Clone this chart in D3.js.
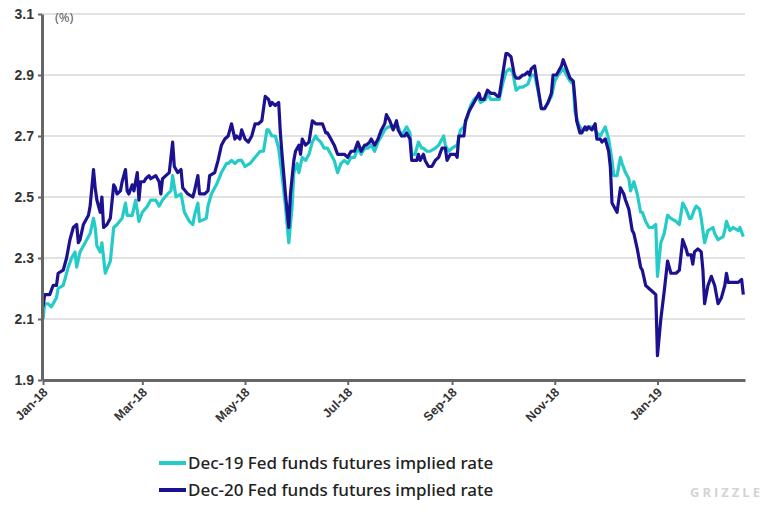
<!DOCTYPE html>
<html>
<head>
<meta charset="utf-8">
<script src="https://cdn.jsdelivr.net/npm/d3@7"></script>
<style>
  body { margin: 0; background: #fff; }
  svg { display: block; }
</style>
</head>
<body>
<svg id="drawing_region"></svg>
<script>
// Dec-19 contract (cyan)
const dec19Dates = ["2018-01-01","2018-01-02","2018-01-04","2018-01-06","2018-01-09","2018-01-10","2018-01-13","2018-01-15","2018-01-16","2018-01-18","2018-01-20","2018-01-21","2018-01-23","2018-01-26","2018-01-29","2018-01-31","2018-02-01","2018-02-02","2018-02-04","2018-02-05","2018-02-07","2018-02-10","2018-02-12","2018-02-14","2018-02-17","2018-02-19","2018-02-20","2018-02-23","2018-02-25","2018-02-27","2018-03-01","2018-03-04","2018-03-06","2018-03-09","2018-03-11","2018-03-13","2018-03-16","2018-03-18","2018-03-19","2018-03-21","2018-03-24","2018-03-26","2018-03-29","2018-03-31","2018-04-01","2018-04-03","2018-04-04","2018-04-08","2018-04-09","2018-04-11","2018-04-14","2018-04-17","2018-04-20","2018-04-21","2018-04-23","2018-04-25","2018-04-27","2018-04-29","2018-05-01","2018-05-04","2018-05-07","2018-05-10","2018-05-12","2018-05-14","2018-05-15","2018-05-17","2018-05-19","2018-05-21","2018-05-23","2018-05-25","2018-05-27","2018-05-29","2018-05-30","2018-06-01","2018-06-02","2018-06-04","2018-06-06","2018-06-08","2018-06-10","2018-06-12","2018-06-13","2018-06-15","2018-06-17","2018-06-19","2018-06-21","2018-06-23","2018-06-25","2018-06-27","2018-06-29","2018-07-01","2018-07-03","2018-07-05","2018-07-07","2018-07-09","2018-07-11","2018-07-13","2018-07-15","2018-07-17","2018-07-19","2018-07-21","2018-07-23","2018-07-25","2018-07-29","2018-07-31","2018-08-02","2018-08-05","2018-08-07","2018-08-08","2018-08-10","2018-08-12","2018-08-14","2018-08-15","2018-08-17","2018-08-19","2018-08-22","2018-08-24","2018-08-27","2018-08-28","2018-08-30","2018-09-01","2018-09-04","2018-09-06","2018-09-08","2018-09-10","2018-09-12","2018-09-14","2018-09-16","2018-09-18","2018-09-21","2018-09-22","2018-09-24","2018-09-27","2018-09-29","2018-10-01","2018-10-03","2018-10-05","2018-10-07","2018-10-09","2018-10-11","2018-10-13","2018-10-16","2018-10-18","2018-10-20","2018-10-22","2018-10-24","2018-10-26","2018-10-28","2018-10-30","2018-11-01","2018-11-03","2018-11-06","2018-11-08","2018-11-10","2018-11-12","2018-11-13","2018-11-15","2018-11-17","2018-11-19","2018-11-21","2018-11-24","2018-11-26","2018-11-28","2018-11-30","2018-12-01","2018-12-03","2018-12-05","2018-12-06","2018-12-08","2018-12-10","2018-12-11","2018-12-13","2018-12-15","2018-12-16","2018-12-18","2018-12-20","2018-12-22","2018-12-23","2018-12-25","2018-12-27","2018-12-29","2018-12-31","2019-01-01","2019-01-03","2019-01-05","2019-01-07","2019-01-09","2019-01-12","2019-01-14","2019-01-16","2019-01-18","2019-01-20","2019-01-21","2019-01-23","2019-01-24","2019-01-26","2019-01-27","2019-01-29","2019-01-31","2019-02-03","2019-02-04","2019-02-06","2019-02-09","2019-02-10","2019-02-11","2019-02-13","2019-02-15","2019-02-18","2019-02-19","2019-02-21"];
const dec19Values = [2.10,2.15,2.15,2.14,2.17,2.20,2.21,2.25,2.27,2.30,2.32,2.27,2.32,2.35,2.38,2.43,2.40,2.34,2.32,2.35,2.25,2.29,2.40,2.41,2.43,2.48,2.44,2.44,2.49,2.42,2.45,2.47,2.49,2.49,2.47,2.49,2.51,2.52,2.57,2.50,2.51,2.45,2.42,2.41,2.44,2.48,2.42,2.43,2.47,2.51,2.54,2.58,2.61,2.61,2.62,2.61,2.62,2.62,2.60,2.61,2.63,2.65,2.65,2.72,2.72,2.70,2.70,2.66,2.57,2.47,2.35,2.47,2.58,2.61,2.58,2.63,2.62,2.64,2.68,2.70,2.69,2.68,2.66,2.66,2.64,2.62,2.58,2.61,2.62,2.61,2.63,2.63,2.66,2.64,2.66,2.66,2.67,2.65,2.68,2.70,2.72,2.73,2.73,2.73,2.70,2.73,2.71,2.64,2.64,2.68,2.66,2.66,2.65,2.65,2.66,2.67,2.70,2.67,2.65,2.66,2.67,2.72,2.73,2.76,2.80,2.82,2.83,2.81,2.82,2.84,2.82,2.82,2.82,2.87,2.91,2.92,2.91,2.85,2.86,2.86,2.87,2.90,2.90,2.85,2.79,2.79,2.81,2.83,2.88,2.90,2.92,2.90,2.88,2.87,2.78,2.74,2.72,2.72,2.73,2.73,2.71,2.70,2.72,2.73,2.69,2.62,2.57,2.57,2.63,2.61,2.58,2.56,2.52,2.55,2.51,2.45,2.45,2.42,2.40,2.40,2.41,2.24,2.35,2.38,2.44,2.43,2.42,2.41,2.48,2.46,2.43,2.43,2.46,2.47,2.46,2.43,2.35,2.39,2.40,2.38,2.36,2.37,2.39,2.42,2.39,2.40,2.39,2.40,2.37];

// Dec-20 contract (navy)
const dec20Dates = ["2018-01-01","2018-01-02","2018-01-05","2018-01-07","2018-01-09","2018-01-10","2018-01-13","2018-01-15","2018-01-17","2018-01-19","2018-01-21","2018-01-22","2018-01-23","2018-01-25","2018-01-28","2018-01-29","2018-01-31","2018-02-01","2018-02-02","2018-02-04","2018-02-05","2018-02-06","2018-02-08","2018-02-10","2018-02-12","2018-02-13","2018-02-14","2018-02-16","2018-02-17","2018-02-19","2018-02-20","2018-02-21","2018-02-23","2018-02-24","2018-02-26","2018-02-27","2018-02-28","2018-03-02","2018-03-03","2018-03-05","2018-03-06","2018-03-09","2018-03-11","2018-03-12","2018-03-13","2018-03-15","2018-03-17","2018-03-19","2018-03-20","2018-03-22","2018-03-24","2018-03-25","2018-03-28","2018-03-31","2018-04-01","2018-04-03","2018-04-04","2018-04-07","2018-04-09","2018-04-10","2018-04-13","2018-04-15","2018-04-17","2018-04-19","2018-04-21","2018-04-22","2018-04-23","2018-04-25","2018-04-26","2018-04-28","2018-04-29","2018-05-01","2018-05-03","2018-05-05","2018-05-07","2018-05-09","2018-05-11","2018-05-13","2018-05-15","2018-05-16","2018-05-17","2018-05-19","2018-05-21","2018-05-22","2018-05-23","2018-05-25","2018-05-27","2018-05-28","2018-05-30","2018-05-31","2018-06-02","2018-06-03","2018-06-04","2018-06-06","2018-06-08","2018-06-10","2018-06-12","2018-06-14","2018-06-16","2018-06-18","2018-06-19","2018-06-21","2018-06-23","2018-06-25","2018-06-27","2018-06-29","2018-07-01","2018-07-03","2018-07-05","2018-07-07","2018-07-09","2018-07-11","2018-07-12","2018-07-14","2018-07-15","2018-07-17","2018-07-19","2018-07-21","2018-07-23","2018-07-24","2018-07-26","2018-07-28","2018-07-30","2018-07-31","2018-08-02","2018-08-04","2018-08-05","2018-08-07","2018-08-08","2018-08-11","2018-08-12","2018-08-13","2018-08-15","2018-08-16","2018-08-18","2018-08-20","2018-08-22","2018-08-24","2018-08-26","2018-08-28","2018-08-29","2018-08-31","2018-09-02","2018-09-03","2018-09-04","2018-09-05","2018-09-08","2018-09-09","2018-09-11","2018-09-13","2018-09-15","2018-09-17","2018-09-18","2018-09-20","2018-09-22","2018-09-24","2018-09-26","2018-09-28","2018-09-29","2018-10-01","2018-10-03","2018-10-04","2018-10-06","2018-10-08","2018-10-09","2018-10-11","2018-10-13","2018-10-14","2018-10-16","2018-10-17","2018-10-18","2018-10-20","2018-10-22","2018-10-24","2018-10-26","2018-10-28","2018-10-30","2018-10-31","2018-11-02","2018-11-03","2018-11-05","2018-11-06","2018-11-08","2018-11-10","2018-11-12","2018-11-13","2018-11-14","2018-11-16","2018-11-17","2018-11-19","2018-11-20","2018-11-21","2018-11-23","2018-11-25","2018-11-26","2018-11-28","2018-11-29","2018-12-01","2018-12-03","2018-12-04","2018-12-05","2018-12-07","2018-12-08","2018-12-10","2018-12-12","2018-12-13","2018-12-15","2018-12-17","2018-12-18","2018-12-20","2018-12-22","2018-12-23","2018-12-25","2018-12-27","2018-12-29","2018-12-31","2019-01-01","2019-01-03","2019-01-05","2019-01-07","2019-01-09","2019-01-12","2019-01-14","2019-01-16","2019-01-18","2019-01-19","2019-01-21","2019-01-22","2019-01-23","2019-01-25","2019-01-27","2019-01-28","2019-01-29","2019-01-31","2019-02-02","2019-02-04","2019-02-06","2019-02-08","2019-02-10","2019-02-11","2019-02-12","2019-02-15","2019-02-18","2019-02-20","2019-02-21"];
const dec20Values = [2.14,2.18,2.18,2.21,2.21,2.25,2.26,2.30,2.36,2.40,2.41,2.35,2.36,2.41,2.44,2.47,2.59,2.53,2.49,2.45,2.50,2.40,2.41,2.43,2.54,2.53,2.51,2.52,2.55,2.59,2.52,2.51,2.54,2.52,2.58,2.49,2.55,2.55,2.56,2.57,2.56,2.57,2.55,2.51,2.56,2.57,2.58,2.68,2.60,2.58,2.59,2.53,2.51,2.50,2.52,2.57,2.51,2.51,2.52,2.57,2.58,2.62,2.67,2.69,2.70,2.72,2.74,2.69,2.70,2.69,2.72,2.69,2.68,2.70,2.74,2.74,2.75,2.83,2.82,2.80,2.81,2.80,2.81,2.71,2.64,2.51,2.40,2.51,2.62,2.65,2.67,2.64,2.69,2.67,2.68,2.75,2.74,2.74,2.74,2.71,2.71,2.69,2.67,2.64,2.64,2.64,2.63,2.65,2.65,2.68,2.65,2.67,2.67,2.68,2.69,2.67,2.69,2.72,2.74,2.77,2.75,2.72,2.75,2.72,2.70,2.70,2.71,2.69,2.62,2.62,2.64,2.62,2.64,2.62,2.60,2.60,2.62,2.63,2.66,2.66,2.62,2.64,2.64,2.64,2.63,2.70,2.70,2.75,2.78,2.80,2.82,2.84,2.82,2.82,2.85,2.84,2.84,2.83,2.83,2.90,2.97,2.97,2.96,2.90,2.89,2.89,2.90,2.90,2.91,2.90,2.92,2.93,2.86,2.79,2.79,2.81,2.84,2.90,2.90,2.91,2.93,2.95,2.92,2.89,2.88,2.82,2.75,2.71,2.71,2.73,2.72,2.73,2.72,2.74,2.69,2.69,2.68,2.69,2.65,2.60,2.48,2.46,2.45,2.53,2.51,2.49,2.46,2.39,2.38,2.33,2.27,2.26,2.21,2.20,2.19,2.18,1.98,2.10,2.19,2.29,2.25,2.25,2.26,2.36,2.33,2.31,2.31,2.28,2.32,2.33,2.32,2.26,2.15,2.21,2.24,2.21,2.15,2.17,2.21,2.25,2.22,2.22,2.22,2.23,2.18];

const yTicks = [1.9, 2.1, 2.3, 2.5, 2.7, 2.9, 3.1];
const xTickDates = ["2018-01-01","2018-03-01","2018-05-01","2018-07-01","2018-09-01","2018-11-01","2019-01-01"];
const seriesNames = ["Dec-19 Fed funds futures implied rate", "Dec-20 Fed funds futures implied rate"];
const seriesColors = ["#25cbc7", "#1c1190"];

const parseDate = d3.timeParse("%Y-%m-%d");

const config = {
    width: 768,
    height: 513,
    margin: {top: 14, right: 23, bottom: 133, left: 42}
};

const svg = d3.select('#drawing_region')
    .attr('width', config.width)
    .attr('height', config.height)
    .style('font-family', '"Open Sans", sans-serif');

const inner_width = config.width - config.margin.left - config.margin.right;
const inner_height = config.height - config.margin.top - config.margin.bottom;

const chart = svg.append('g')
    .attr('transform', `translate(${config.margin.left}, ${config.margin.top})`);

const xscale = d3.scaleTime()
    .domain([parseDate("2018-01-01"), parseDate("2019-02-22")])
    .range([1, inner_width]);

const yscale = d3.scaleLinear()
    .domain([1.9, 3.1])
    .range([inner_height, 0]);

// gridlines
chart.append('g')
    .selectAll('line')
    .data(yTicks.filter(d => d > 1.9))
    .join('line')
    .attr('x1', 0)
    .attr('x2', inner_width)
    .attr('y1', d => yscale(d))
    .attr('y2', d => yscale(d))
    .attr('stroke', '#d9d9d9')
    .attr('stroke-width', 1.5);

const series = [
    {name: seriesNames[0], color: seriesColors[0],
     values: dec19Dates.map((d, i) => ({date: parseDate(d), v: dec19Values[i]}))},
    {name: seriesNames[1], color: seriesColors[1],
     values: dec20Dates.map((d, i) => ({date: parseDate(d), v: dec20Values[i]}))}
];

const line = d3.line()
    .x(d => xscale(d.date))
    .y(d => yscale(d.v));

chart.selectAll('path.series')
    .data(series)
    .join('path')
    .attr('class', 'series')
    .attr('d', d => line(d.values))
    .attr('fill', 'none')
    .attr('stroke', d => d.color)
    .attr('stroke-width', 3.2)
    .attr('stroke-linejoin', 'round');

// axes
const yaxis = d3.axisLeft(yscale)
    .tickValues(yTicks)
    .tickFormat(d3.format('.1f'))
    .tickSize(4)
    .tickSizeOuter(0);

const yaxis_group = chart.append('g').call(yaxis);
yaxis_group.select('.domain').attr('stroke', '#666').attr('stroke-width', 3);
yaxis_group.selectAll('.tick line').attr('stroke', '#666').attr('stroke-width', 2);
yaxis_group.selectAll('.tick text')
    .attr('x', -8)
    .attr('fill', '#333')
    .style('font-size', '14px')
    .style('font-weight', 700);

const xaxis = d3.axisBottom(xscale)
    .tickValues(xTickDates.map(parseDate))
    .tickFormat(d3.timeFormat('%b-%y'))
    .tickSize(5)
    .tickSizeOuter(0);

const xaxis_group = chart.append('g')
    .attr('transform', `translate(0, ${inner_height})`)
    .call(xaxis);
xaxis_group.select('.domain').attr('stroke', '#666').attr('stroke-width', 3);
xaxis_group.selectAll('.tick line').attr('stroke', '#666').attr('stroke-width', 2);
xaxis_group.selectAll('.tick text')
    .attr('fill', '#333')
    .style('font-size', '12.5px')
    .style('font-weight', 600)
    .attr('text-anchor', 'end')
    .attr('dy', 0)
    .attr('y', 0)
    .attr('transform', 'translate(5, 13) rotate(-45)');

chart.append('text')
    .attr('x', 13)
    .attr('y', 8)
    .attr('fill', '#555')
    .style('font-size', '13px')
    .text('(%)');

// legend
const legend = svg.append('g')
    .attr('transform', 'translate(159, 463)')
    .style('font-family', '"Noto Sans", sans-serif');

const legend_item = legend.selectAll('g')
    .data(series)
    .join('g')
    .attr('transform', (d, i) => `translate(0, ${i * 27})`);

legend_item.append('line')
    .attr('x1', 0).attr('x2', 27)
    .attr('stroke', d => d.color)
    .attr('stroke-width', 4);

legend_item.append('text')
    .attr('x', 29)
    .attr('dy', '0.35em')
    .attr('fill', '#222')
    .style('font-size', '17px')
    .style('font-weight', 500)
    .text(d => d.name);

// watermark
svg.append('text')
    .attr('x', 763)
    .attr('y', 497)
    .attr('text-anchor', 'end')
    .attr('fill', '#d4d4d4')
    .style('font-size', '13px')
    .style('font-weight', 700)
    .style('letter-spacing', '3px')
    .text('GRIZZLE');
</script>
</body>
</html>
